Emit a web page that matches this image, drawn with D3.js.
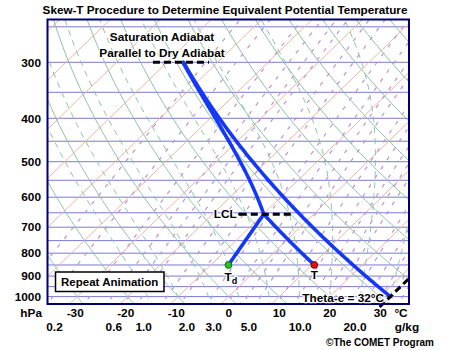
<!DOCTYPE html>
<html><head><meta charset="utf-8">
<script src="https://cdn.jsdelivr.net/npm/d3@7"></script>
<style>
html,body{margin:0;padding:0;background:#fff;}
svg{display:block;}
text{font-family:"Liberation Sans",Arial,Helvetica,sans-serif;font-weight:bold;fill:#000;}
</style></head><body>
<svg id="c" width="450" height="350"></svg>
<script>
// ---------- data ----------
const pressureTicks = [300, 400, 500, 600, 700, 800, 900, 1000];
const isobars = [250, 300, 350, 400, 450, 500, 550, 600, 650, 700, 750, 800, 850, 900, 950, 1000];
const tempTicks = [-30, -20, -10, 0, 10, 20, 30];
const mixTicks = [0.2, 0.6, 1.0, 2.0, 3.0, 5.0, 10.0, 20.0];
const mixTickLabels = ["0.2", "0.6", "1.0", "2.0", "3.0", "5.0", "10.0", "20.0"];
const isotherms = [-100, -90, -80, -70, -60, -50, -40, -30, -20, -10, 0, 10, 20, 30, 40];
const dryAdiabats = [-40, -30, -20, -10, 0, 10, 20, 30, 40, 50, 60, 70, 80, 90, 100, 110];
const moistAdiabats = [-16, -10, -4, 2, 8, 14, 20, 26, 32, 38];
const mixingRatios = [0.1, 0.2, 0.4, 0.6, 0.8, 1, 1.5, 2, 3, 4, 5, 6, 8, 10, 12, 14, 16, 20, 24, 28, 32, 36, 40];
const parcelPressure = 850;
const parcelTemp = 10.5;
const parcelDewpoint = -6.5;
const parallelLevel = 300;
const thetaE = 32;

// ---------- geometry ----------
const L = 47.5, T0 = 19.5, R = 409, B = 304;
const y = d3.scaleLog().domain([1000, 300]).range([296.6, 62.3]);
const xT = d3.scaleLinear().domain([0, 10]).range([228.7, 279.2]);
const SKEW = 1.03;
const X = (t, p) => xT(t) + SKEW * (y(1000) - y(p));
const pTop = y.invert(T0 - 2), pBot = y.invert(B + 4);

// ---------- thermo ----------
const Rd = 287.04, cp = 1005.7, Lv = 2.501e6, K = 273.15;
const es = t => 6.112 * Math.exp(17.67 * t / (t + 243.5));
const dryT = (theta, p, p0 = 1000) => (theta + K) * Math.pow(p / p0, Rd / cp) - K;
const mixTd = (w, p) => { const e = w * p / (622 + w); const l = Math.log(e / 6.112); return 243.5 * l / (17.67 - l); };
function lapse(t, p) {
  const Tk = t + K, e = es(t), rs = 0.622 * e / (p - e);
  return (1 / p) * (Rd * Tk + Lv * rs) / (cp + Lv * Lv * rs * 0.622 / (Rd * Tk * Tk));
}
function moistPath(t0, p0, p1, step) {
  const pts = [[p0, t0]]; let t = t0, p = p0;
  const dir = p1 < p0 ? -1 : 1;
  while ((dir < 0 && p > p1) || (dir > 0 && p < p1)) {
    let h = dir * step;
    if ((dir < 0 && p + h < p1) || (dir > 0 && p + h > p1)) h = p1 - p;
    const k1 = lapse(t, p), k2 = lapse(t + h * k1 / 2, p + h / 2),
          k3 = lapse(t + h * k2 / 2, p + h / 2), k4 = lapse(t + h * k3, p + h);
    t += h * (k1 + 2 * k2 + 2 * k3 + k4) / 6; p += h;
    pts.push([p, t]);
  }
  return pts;
}
const pSamples = d3.range(pBot, pTop, -5).concat([pTop]);

const svg = d3.select("#c");
const defs = svg.append("defs");
defs.append("clipPath").attr("id", "clip").append("rect")
  .attr("x", L).attr("y", T0).attr("width", R - L).attr("height", B - T0);

const line = d3.line().x(d => X(d[1], d[0])).y(d => y(d[0]));
const g = svg.append("g").attr("clip-path", "url(#clip)");

// isobars
g.selectAll(".isobar").data(isobars).join("line")
  .attr("x1", L).attr("x2", R).attr("y1", d => y(d)).attr("y2", d => y(d))
  .attr("stroke", "#7a7ad4").attr("stroke-width", 1);
// isotherms
g.selectAll(".iso").data(isotherms).join("path")
  .attr("d", t => line([[pBot, t], [pTop, t]]))
  .attr("fill", "none").attr("stroke", "#ebb5a3").attr("stroke-width", 1);
// mixing ratio
g.selectAll(".mix").data(mixingRatios).join("path")
  .attr("d", w => line(pSamples.map(p => [p, mixTd(w, p)])))
  .attr("fill", "none").attr("stroke", "#bb94d6").attr("stroke-width", 1.2)
  .attr("stroke-dasharray", "4,7");
// dry adiabats
g.selectAll(".dry").data(dryAdiabats).join("path")
  .attr("d", th => line(pSamples.map(p => [p, dryT(th, p)])))
  .attr("fill", "none").attr("stroke", "#8cbfa6").attr("stroke-width", 1);
// moist adiabats
g.selectAll(".moist").data(moistAdiabats).join("path")
  .attr("d", tw => {
    const up = moistPath(tw, 1000, pTop, 5);
    const down = moistPath(tw, 1000, pBot, 5).reverse();
    return line(down.concat(up.slice(1)));
  })
  .attr("fill", "none").attr("stroke", "#8cbfa6").attr("stroke-width", 1)
  .attr("stroke-dasharray", "6,5");

// ---------- parcel ----------
const TdK = parcelDewpoint + K, TK = parcelTemp + K;
const TL = 1 / (1 / (TdK - 56) + Math.log(TK / TdK) / 800) + 56 - K;
const pL = parcelPressure * Math.pow((TL + K) / TK, cp / Rd);
const wP = 622 * es(parcelDewpoint) / (parcelPressure - es(parcelDewpoint));
const thetaP = TK * Math.pow(1000 / parcelPressure, Rd / cp) - K;

const segDry = d3.range(parcelPressure, pL, -5).concat([pL]).map(p => [p, dryT(thetaP, p)]);
const segMix = d3.range(parcelPressure, pL, -5).concat([pL]).map(p => [p, mixTd(wP, p)]);
const segMoist = moistPath(TL, pL, parallelLevel, 2);
const segDown = d3.range(parallelLevel, 1000, 5).concat([1000]).map(p => [p, dryT(thetaE, p)]);

const blue = "#1438f5";
[segDry, segMix, segMoist, segDown].forEach(s => {
  svg.append("path").attr("d", line(s)).attr("fill", "none")
    .attr("stroke", blue).attr("stroke-width", 3.6).attr("stroke-linejoin", "round").attr("stroke-linecap", "round");
});

// dashed annotation lines
const topX = X(segMoist[segMoist.length - 1][1], parallelLevel);
svg.append("line").attr("x1", topX - 30).attr("x2", topX + 26)
  .attr("y1", y(parallelLevel)).attr("y2", y(parallelLevel))
  .attr("stroke", "#000").attr("stroke-width", 3).attr("stroke-dasharray", "7,4");
const lclX = X(TL, pL);
svg.append("line").attr("x1", lclX - 24).attr("x2", lclX + 30)
  .attr("y1", y(pL)).attr("y2", y(pL))
  .attr("stroke", "#000").attr("stroke-width", 3).attr("stroke-dasharray", "7,4");
svg.append("circle").attr("cx", lclX - 24).attr("cy", y(pL)).attr("r", 1.6).attr("fill", "#000");
const pEdge = d3.range(1100, 800, -0.5).find(p => X(thetaE, p) >= R + 1);
svg.append("line")
  .attr("x1", X(thetaE, y.invert(B + 3))).attr("y1", B + 3)
  .attr("x2", X(thetaE, pEdge)).attr("y2", y(pEdge))
  .attr("stroke", "#000").attr("stroke-width", 3).attr("stroke-dasharray", "7,4");

// points
svg.append("circle").attr("cx", X(parcelDewpoint, parcelPressure)).attr("cy", y(parcelPressure))
  .attr("r", 3.4).attr("fill", "#1ec81e").attr("stroke", "#0a4a0a").attr("stroke-width", 0.8);
svg.append("circle").attr("cx", X(parcelTemp, parcelPressure)).attr("cy", y(parcelPressure))
  .attr("r", 3.4).attr("fill", "#e41010").attr("stroke", "#4a0000").attr("stroke-width", 0.8);

// frame
svg.append("rect").attr("x", L).attr("y", T0).attr("width", R - L).attr("height", B - T0)
  .attr("fill", "none").attr("stroke", "#000070").attr("stroke-width", 2);

// ---------- texts ----------
const halo = sel => sel.attr("stroke", "#fff").attr("stroke-width", 2.5).attr("paint-order", "stroke").attr("stroke-linejoin", "round");
svg.append("text").attr("x", 225).attr("y", 14).attr("text-anchor", "middle")
  .attr("font-size", 11.7).text("Skew-T Procedure to Determine Equivalent Potential Temperature");

svg.selectAll(".pt").data(pressureTicks).join("text")
  .attr("x", 41).attr("y", d => y(d)).attr("dy", "0.36em").attr("text-anchor", "end")
  .attr("font-size", 11.8).text(d => d);
svg.append("text").attr("x", 42).attr("y", 313).attr("dy", "0.36em").attr("text-anchor", "end")
  .attr("font-size", 11.8).text("hPa");
svg.selectAll(".tt").data(tempTicks).join("text")
  .attr("x", d => xT(d) - (d < 0 ? 2 : 0)).attr("y", 313).attr("dy", "0.36em").attr("text-anchor", "middle")
  .attr("font-size", 11.8).text(d => d);
svg.append("text").attr("x", 401).attr("y", 313).attr("dy", "0.36em").attr("text-anchor", "middle")
  .attr("font-size", 11.8).text("°C");
svg.selectAll(".mt").data(mixTicks).join("text")
  .attr("x", d => X(mixTd(d, 1000), 1000) + 1.5).attr("y", 327).attr("dy", "0.36em").attr("text-anchor", "middle")
  .attr("font-size", 11.8).text((d, i) => mixTickLabels[i]);
svg.append("text").attr("x", 407).attr("y", 327).attr("dy", "0.36em").attr("text-anchor", "middle")
  .attr("font-size", 11.8).text("g/kg");
svg.append("text").attr("x", 434).attr("y", 342).attr("dy", "0.36em").attr("text-anchor", "end")
  .attr("font-size", 10).text("©The COMET Program");

svg.append("text").attr("x", 162).attr("y", 37).attr("dy", "0.36em").attr("text-anchor", "middle")
  .attr("font-size", 11.8).call(halo).text("Saturation Adiabat");
svg.append("text").attr("x", 162).attr("y", 52.5).attr("dy", "0.36em").attr("text-anchor", "middle")
  .attr("font-size", 11.8).call(halo).text("Parallel to Dry Adiabat");

svg.append("text").attr("x", lclX - 27).attr("y", y(pL)).attr("dy", "0.36em").attr("text-anchor", "end")
  .attr("font-size", 11.8).call(halo).text("LCL");

const tdl = svg.append("text").attr("x", X(parcelDewpoint, parcelPressure) - 4).attr("y", y(parcelPressure) + 16)
  .attr("font-size", 11.8).call(halo);
tdl.append("tspan").text("T");
tdl.append("tspan").attr("font-size", 9).attr("dy", 3).text("d");
svg.append("text").attr("x", X(parcelTemp, parcelPressure)).attr("y", y(parcelPressure) + 14)
  .attr("text-anchor", "middle").attr("font-size", 11.8).call(halo).text("T");

svg.append("text").attr("x", 384).attr("y", 297.5).attr("dy", "0.36em").attr("text-anchor", "end")
  .attr("font-size", 11.8).call(halo).text("Theta-e = " + thetaE + "°C");

// button
svg.append("rect").attr("x", 55.5).attr("y", 272).attr("width", 108.5).attr("height", 19.5)
  .attr("fill", "#fff").attr("stroke", "#000").attr("stroke-width", 1.5);
svg.append("text").attr("x", 109.7).attr("y", 282).attr("dy", "0.36em").attr("text-anchor", "middle")
  .attr("font-size", 11.5).text("Repeat Animation");
</script>
</body></html>
